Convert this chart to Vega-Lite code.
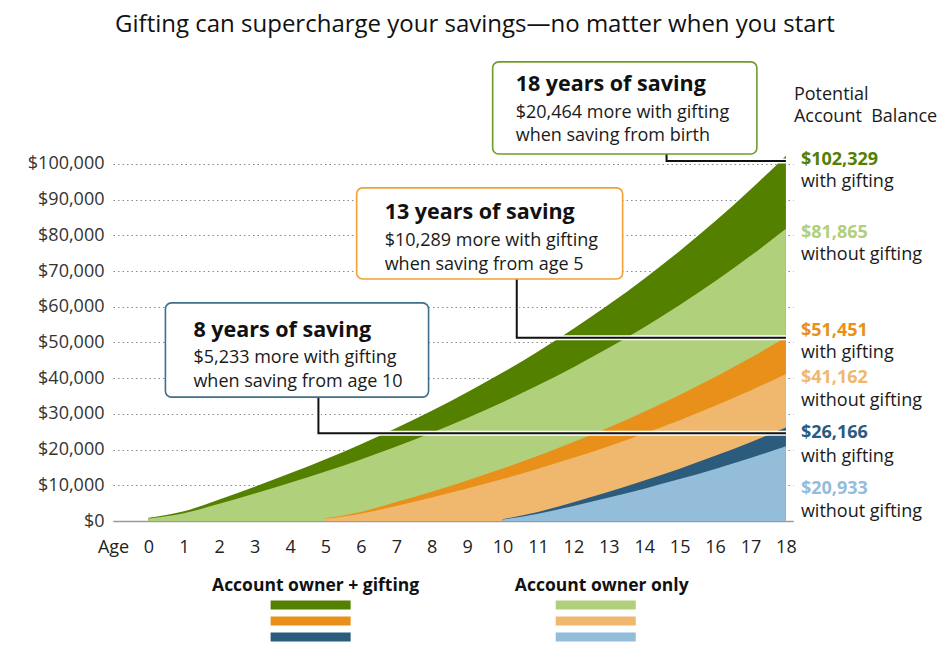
{
  "$schema": "https://vega.github.io/schema/vega-lite/v6.json",
  "width": 680,
  "height": 457,
  "autosize": {"type": "none"},
  "padding": {"left": 113, "top": 64, "right": 157, "bottom": 129},
  "background": "white",
  "config": {
    "font": "Open Sans",
    "view": {"stroke": null},
    "axis": {"labelOverlap": false, "labelFlush": false, "labelBound": false}
  },
  "title": {
    "text": "Gifting can supercharge your savings—no matter when you start",
    "font": "Open Sans",
    "fontSize": 24,
    "fontWeight": "normal",
    "color": "#111111",
    "anchor": "middle",
    "frame": "group",
    "dx": 22,
    "offset": 24
  },
  "datasets": {
    "balances": [
      {"age": 0, "series": "birth_with", "value": 900},
      {"age": 1, "series": "birth_with", "value": 2700},
      {"age": 2, "series": "birth_with", "value": 6000},
      {"age": 3, "series": "birth_with", "value": 9600},
      {"age": 4, "series": "birth_with", "value": 13363},
      {"age": 5, "series": "birth_with", "value": 17308},
      {"age": 6, "series": "birth_with", "value": 21530},
      {"age": 7, "series": "birth_with", "value": 26046},
      {"age": 8, "series": "birth_with", "value": 30879},
      {"age": 9, "series": "birth_with", "value": 36050},
      {"age": 10, "series": "birth_with", "value": 41584},
      {"age": 11, "series": "birth_with", "value": 47504},
      {"age": 12, "series": "birth_with", "value": 53840},
      {"age": 13, "series": "birth_with", "value": 60618},
      {"age": 14, "series": "birth_with", "value": 67871},
      {"age": 15, "series": "birth_with", "value": 75632},
      {"age": 16, "series": "birth_with", "value": 83936},
      {"age": 17, "series": "birth_with", "value": 92821},
      {"age": 18, "series": "birth_with", "value": 102329},
      {"age": 0, "series": "birth_without", "value": 700},
      {"age": 1, "series": "birth_without", "value": 2150},
      {"age": 2, "series": "birth_without", "value": 4800},
      {"age": 3, "series": "birth_without", "value": 7680},
      {"age": 4, "series": "birth_without", "value": 10691},
      {"age": 5, "series": "birth_without", "value": 13847},
      {"age": 6, "series": "birth_without", "value": 17224},
      {"age": 7, "series": "birth_without", "value": 20838},
      {"age": 8, "series": "birth_without", "value": 24705},
      {"age": 9, "series": "birth_without", "value": 28842},
      {"age": 10, "series": "birth_without", "value": 33269},
      {"age": 11, "series": "birth_without", "value": 38006},
      {"age": 12, "series": "birth_without", "value": 43074},
      {"age": 13, "series": "birth_without", "value": 48497},
      {"age": 14, "series": "birth_without", "value": 54300},
      {"age": 15, "series": "birth_without", "value": 60508},
      {"age": 16, "series": "birth_without", "value": 67152},
      {"age": 17, "series": "birth_without", "value": 74260},
      {"age": 18, "series": "birth_without", "value": 81865},
      {"age": 5, "series": "age5_with", "value": 800},
      {"age": 6, "series": "age5_with", "value": 2555},
      {"age": 7, "series": "age5_with", "value": 5288},
      {"age": 8, "series": "age5_with", "value": 8213},
      {"age": 9, "series": "age5_with", "value": 11342},
      {"age": 10, "series": "age5_with", "value": 14691},
      {"age": 11, "series": "age5_with", "value": 18274},
      {"age": 12, "series": "age5_with", "value": 22108},
      {"age": 13, "series": "age5_with", "value": 26210},
      {"age": 14, "series": "age5_with", "value": 30599},
      {"age": 15, "series": "age5_with", "value": 35296},
      {"age": 16, "series": "age5_with", "value": 40321},
      {"age": 17, "series": "age5_with", "value": 45697},
      {"age": 18, "series": "age5_with", "value": 51451},
      {"age": 5, "series": "age5_without", "value": 600},
      {"age": 6, "series": "age5_without", "value": 2044},
      {"age": 7, "series": "age5_without", "value": 4231},
      {"age": 8, "series": "age5_without", "value": 6570},
      {"age": 9, "series": "age5_without", "value": 9074},
      {"age": 10, "series": "age5_without", "value": 11753},
      {"age": 11, "series": "age5_without", "value": 14619},
      {"age": 12, "series": "age5_without", "value": 17687},
      {"age": 13, "series": "age5_without", "value": 20968},
      {"age": 14, "series": "age5_without", "value": 24480},
      {"age": 15, "series": "age5_without", "value": 28237},
      {"age": 16, "series": "age5_without", "value": 32257},
      {"age": 17, "series": "age5_without", "value": 36558},
      {"age": 18, "series": "age5_without", "value": 41162},
      {"age": 10, "series": "age10_with", "value": 500},
      {"age": 11, "series": "age10_with", "value": 2550},
      {"age": 12, "series": "age10_with", "value": 5279},
      {"age": 13, "series": "age10_with", "value": 8199},
      {"age": 14, "series": "age10_with", "value": 11323},
      {"age": 15, "series": "age10_with", "value": 14667},
      {"age": 16, "series": "age10_with", "value": 18244},
      {"age": 17, "series": "age10_with", "value": 22071},
      {"age": 18, "series": "age10_with", "value": 26166},
      {"age": 10, "series": "age10_without", "value": 400},
      {"age": 11, "series": "age10_without", "value": 2040},
      {"age": 12, "series": "age10_without", "value": 4223},
      {"age": 13, "series": "age10_without", "value": 6559},
      {"age": 14, "series": "age10_without", "value": 9059},
      {"age": 15, "series": "age10_without", "value": 11733},
      {"age": 16, "series": "age10_without", "value": 14595},
      {"age": 17, "series": "age10_without", "value": 17657},
      {"age": 18, "series": "age10_without", "value": 20933}
    ],
    "connectors": [
      {"scenario": "birth", "pt": 1, "age": 14.63, "value": 102800},
      {"scenario": "birth", "pt": 2, "age": 14.63, "value": 100800},
      {"scenario": "birth", "pt": 3, "age": 18, "value": 100800},
      {"scenario": "age5", "pt": 1, "age": 10.4, "value": 67800},
      {"scenario": "age5", "pt": 2, "age": 10.4, "value": 51300},
      {"scenario": "age5", "pt": 3, "age": 18, "value": 51300},
      {"scenario": "age10", "pt": 1, "age": 4.8, "value": 34700},
      {"scenario": "age10", "pt": 2, "age": 4.8, "value": 24600},
      {"scenario": "age10", "pt": 3, "age": 18, "value": 24600}
    ],
    "boxes": [
      {"scenario": "birth", "age": 9.72, "age2": 17.18, "value": 128600, "value2": 102800},
      {"scenario": "age5", "age": 5.88, "age2": 13.39, "value": 93300, "value2": 67800},
      {"scenario": "age10", "age": 0.48, "age2": 7.91, "value": 61100, "value2": 34700}
    ],
    "boxText": [
      {"scenario": "birth", "kind": "head", "text": "18 years of saving", "age": 10.37, "value": 120400},
      {"scenario": "birth", "kind": "body", "text": "$20,464 more with gifting", "age": 10.37, "value": 112900},
      {"scenario": "birth", "kind": "body", "text": "when saving from birth", "age": 10.37, "value": 106400},
      {"scenario": "age5", "kind": "head", "text": "13 years of saving", "age": 6.67, "value": 84600},
      {"scenario": "age5", "kind": "body", "text": "$10,289 more with gifting", "age": 6.67, "value": 77000},
      {"scenario": "age5", "kind": "body", "text": "when saving from age 5", "age": 6.67, "value": 70300},
      {"scenario": "age10", "kind": "head", "text": "8 years of saving", "age": 1.27, "value": 51500},
      {"scenario": "age10", "kind": "body", "text": "$5,233 more with gifting", "age": 1.27, "value": 44300},
      {"scenario": "age10", "kind": "body", "text": "when saving from age 10", "age": 1.27, "value": 37500}
    ],
    "endLabels": [
      {"series": "birth_with", "kind": "amount", "text": "$102,329", "age": 18, "value": 99700},
      {"series": "birth_with", "kind": "note", "text": "with gifting", "age": 18, "value": 93600},
      {"series": "birth_without", "kind": "amount", "text": "$81,865", "age": 18, "value": 79300},
      {"series": "birth_without", "kind": "note", "text": "without gifting", "age": 18, "value": 73100},
      {"series": "age5_with", "kind": "amount", "text": "$51,451", "age": 18, "value": 51800},
      {"series": "age5_with", "kind": "note", "text": "with gifting", "age": 18, "value": 45700},
      {"series": "age5_without", "kind": "amount", "text": "$41,162", "age": 18, "value": 38700},
      {"series": "age5_without", "kind": "note", "text": "without gifting", "age": 18, "value": 32200},
      {"series": "age10_with", "kind": "amount", "text": "$26,166", "age": 18, "value": 23200},
      {"series": "age10_with", "kind": "note", "text": "with gifting", "age": 18, "value": 16500},
      {"series": "age10_without", "kind": "amount", "text": "$20,933", "age": 18, "value": 7600},
      {"series": "age10_without", "kind": "note", "text": "without gifting", "age": 18, "value": 1100},
      {"series": "header", "kind": "header", "text": "Potential", "age": 18, "value": 117900},
      {"series": "header", "kind": "header", "text": "Account\u00a0 Balance", "age": 18, "value": 111800}
    ],
    "legendBars": [
      {"group": "Account owner + gifting", "series": "birth_with", "age": 3.45, "age2": 5.71, "value": -23500},
      {"group": "Account owner + gifting", "series": "age5_with", "age": 3.45, "age2": 5.71, "value": -28000},
      {"group": "Account owner + gifting", "series": "age10_with", "age": 3.45, "age2": 5.71, "value": -32500},
      {"group": "Account owner only", "series": "birth_without", "age": 11.5, "age2": 13.76, "value": -23500},
      {"group": "Account owner only", "series": "age5_without", "age": 11.5, "age2": 13.76, "value": -28000},
      {"group": "Account owner only", "series": "age10_without", "age": 11.5, "age2": 13.76, "value": -32500}
    ],
    "legendTitles": [
      {"text": "Account owner + gifting", "age": 4.72, "value": -19600},
      {"text": "Account owner only", "age": 12.8, "value": -19600}
    ]
  },
  "layer": [
    {
      "data": {"name": "balances"},
      "transform": [{"filter": "datum.series == 'birth_with'"}],
      "mark": {"type": "area", "interpolate": "monotone"},
      "encoding": {
        "x": {
          "field": "age", "type": "quantitative",
          "scale": {"domain": [-1, 18.2], "nice": false, "zero": false},
          "axis": {
            "values": [-1, 0, 1, 2, 3, 4, 5, 6, 7, 8, 9, 10, 11, 12, 13, 14, 15, 16, 17, 18],
            "tickCount": 30,
            "format": "d",
            "labelExpr": "datum.value == -1 ? 'Age' : datum.label",
            "title": null, "grid": false, "ticks": false,
            "domain": true, "domainColor": "#9a9a9a", "domainWidth": 1.5,
            "labelFont": "Open Sans", "labelFontSize": 18, "labelColor": "#222222",
            "labelPadding": 17, "labelFlush": false, "labelOverlap": false
          }
        },
        "y": {
          "field": "value", "type": "quantitative", "stack": null,
          "scale": {"domain": [0, 128000], "nice": false, "zero": false},
          "axis": {
            "values": [0, 10000, 20000, 30000, 40000, 50000, 60000, 70000, 80000, 90000, 100000],
            "tickCount": 20,
            "format": "$,.0f", "title": null,
            "grid": true, "gridDash": [1.5, 3], "gridColor": "#8a8a8a", "gridWidth": 1,
            "ticks": false, "domain": false,
            "labelFont": "Open Sans", "labelFontSize": 18, "labelColor": "#333333", "labelPadding": 9
          }
        },
        "color": {
          "field": "series", "type": "nominal", "legend": null,
          "scale": {
            "domain": ["birth_with", "birth_without", "age5_with", "age5_without", "age10_with", "age10_without", "header"],
            "range": ["#548000", "#b1d07c", "#e8901a", "#f0b86e", "#2b5b7d", "#93bdd8", "#222222"]
          }
        }
      }
    },
    {
      "data": {"name": "balances"},
      "transform": [{"filter": "datum.series == 'birth_without'"}],
      "mark": {"type": "area", "interpolate": "monotone"},
      "encoding": {
        "x": {"field": "age", "type": "quantitative"},
        "y": {"field": "value", "type": "quantitative", "stack": null},
        "color": {"field": "series", "type": "nominal", "legend": null}
      }
    },
    {
      "data": {"name": "balances"},
      "transform": [{"filter": "datum.series == 'age5_with'"}],
      "mark": {"type": "area", "interpolate": "monotone"},
      "encoding": {
        "x": {"field": "age", "type": "quantitative"},
        "y": {"field": "value", "type": "quantitative", "stack": null},
        "color": {"field": "series", "type": "nominal", "legend": null}
      }
    },
    {
      "data": {"name": "balances"},
      "transform": [{"filter": "datum.series == 'age5_without'"}],
      "mark": {"type": "area", "interpolate": "monotone"},
      "encoding": {
        "x": {"field": "age", "type": "quantitative"},
        "y": {"field": "value", "type": "quantitative", "stack": null},
        "color": {"field": "series", "type": "nominal", "legend": null}
      }
    },
    {
      "data": {"name": "balances"},
      "transform": [{"filter": "datum.series == 'age10_with'"}],
      "mark": {"type": "area", "interpolate": "monotone"},
      "encoding": {
        "x": {"field": "age", "type": "quantitative"},
        "y": {"field": "value", "type": "quantitative", "stack": null},
        "color": {"field": "series", "type": "nominal", "legend": null}
      }
    },
    {
      "data": {"name": "balances"},
      "transform": [{"filter": "datum.series == 'age10_without'"}],
      "mark": {"type": "area", "interpolate": "monotone"},
      "encoding": {
        "x": {"field": "age", "type": "quantitative"},
        "y": {"field": "value", "type": "quantitative", "stack": null},
        "color": {"field": "series", "type": "nominal", "legend": null}
      }
    },
    {
      "data": {"name": "connectors"},
      "mark": {"type": "line", "color": "white", "strokeWidth": 5, "strokeJoin": "miter", "strokeCap": "butt", "clip": false},
      "encoding": {
        "x": {"field": "age", "type": "quantitative"},
        "y": {"field": "value", "type": "quantitative"},
        "detail": {"field": "scenario"},
        "order": {"field": "pt"}
      }
    },
    {
      "data": {"name": "connectors"},
      "mark": {"type": "line", "color": "#111111", "strokeWidth": 2, "strokeJoin": "miter", "strokeCap": "butt", "clip": false},
      "encoding": {
        "x": {"field": "age", "type": "quantitative"},
        "y": {"field": "value", "type": "quantitative"},
        "detail": {"field": "scenario"},
        "order": {"field": "pt"}
      }
    },
    {
      "data": {"name": "boxes"},
      "mark": {"type": "rect", "fill": "white", "strokeWidth": 1.6, "cornerRadius": 6, "clip": false},
      "encoding": {
        "x": {"field": "age", "type": "quantitative"},
        "x2": {"field": "age2"},
        "y": {"field": "value", "type": "quantitative"},
        "y2": {"field": "value2"},
        "stroke": {
          "field": "scenario", "type": "nominal", "legend": null,
          "scale": {"domain": ["birth", "age5", "age10"], "range": ["#6f9a2e", "#f0a236", "#3f6e8e"]}
        }
      }
    },
    {
      "data": {"name": "boxText"},
      "transform": [{"filter": "datum.kind == 'head'"}],
      "mark": {"type": "text", "align": "left", "baseline": "alphabetic", "font": "Open Sans", "fontSize": 21.5, "fontWeight": "bold", "color": "#111111"},
      "encoding": {
        "x": {"field": "age", "type": "quantitative"},
        "y": {"field": "value", "type": "quantitative"},
        "text": {"field": "text"}
      }
    },
    {
      "data": {"name": "boxText"},
      "transform": [{"filter": "datum.kind == 'body'"}],
      "mark": {"type": "text", "align": "left", "baseline": "alphabetic", "font": "Open Sans", "fontSize": 18, "color": "#1a1a1a"},
      "encoding": {
        "x": {"field": "age", "type": "quantitative"},
        "y": {"field": "value", "type": "quantitative"},
        "text": {"field": "text"}
      }
    },
    {
      "data": {"name": "endLabels"},
      "transform": [{"filter": "datum.kind == 'amount'"}],
      "mark": {"type": "text", "align": "left", "baseline": "alphabetic", "dx": 15, "font": "Open Sans", "fontSize": 18, "fontWeight": "bold", "clip": false},
      "encoding": {
        "x": {"field": "age", "type": "quantitative"},
        "y": {"field": "value", "type": "quantitative"},
        "text": {"field": "text"},
        "color": {"field": "series", "type": "nominal", "legend": null}
      }
    },
    {
      "data": {"name": "endLabels"},
      "transform": [{"filter": "datum.kind == 'note'"}],
      "mark": {"type": "text", "align": "left", "baseline": "alphabetic", "dx": 15, "font": "Open Sans", "fontSize": 18, "color": "#1a1a1a", "clip": false},
      "encoding": {
        "x": {"field": "age", "type": "quantitative"},
        "y": {"field": "value", "type": "quantitative"},
        "text": {"field": "text"}
      }
    },
    {
      "data": {"name": "endLabels"},
      "transform": [{"filter": "datum.kind == 'header'"}],
      "mark": {"type": "text", "align": "left", "baseline": "alphabetic", "dx": 8, "font": "Open Sans", "fontSize": 18, "color": "#1a1a1a", "clip": false},
      "encoding": {
        "x": {"field": "age", "type": "quantitative"},
        "y": {"field": "value", "type": "quantitative"},
        "text": {"field": "text"}
      }
    },
    {
      "data": {"name": "legendBars"},
      "mark": {"type": "rule", "strokeWidth": 9, "strokeCap": "butt", "clip": false},
      "encoding": {
        "x": {"field": "age", "type": "quantitative"},
        "x2": {"field": "age2"},
        "y": {"field": "value", "type": "quantitative"},
        "color": {"field": "series", "type": "nominal", "legend": null}
      }
    },
    {
      "data": {"name": "legendTitles"},
      "mark": {"type": "text", "align": "center", "baseline": "alphabetic", "font": "Open Sans", "fontSize": 17.5, "fontWeight": "bold", "color": "#111111", "clip": false},
      "encoding": {
        "x": {"field": "age", "type": "quantitative"},
        "y": {"field": "value", "type": "quantitative"},
        "text": {"field": "text"}
      }
    }
  ]
}
